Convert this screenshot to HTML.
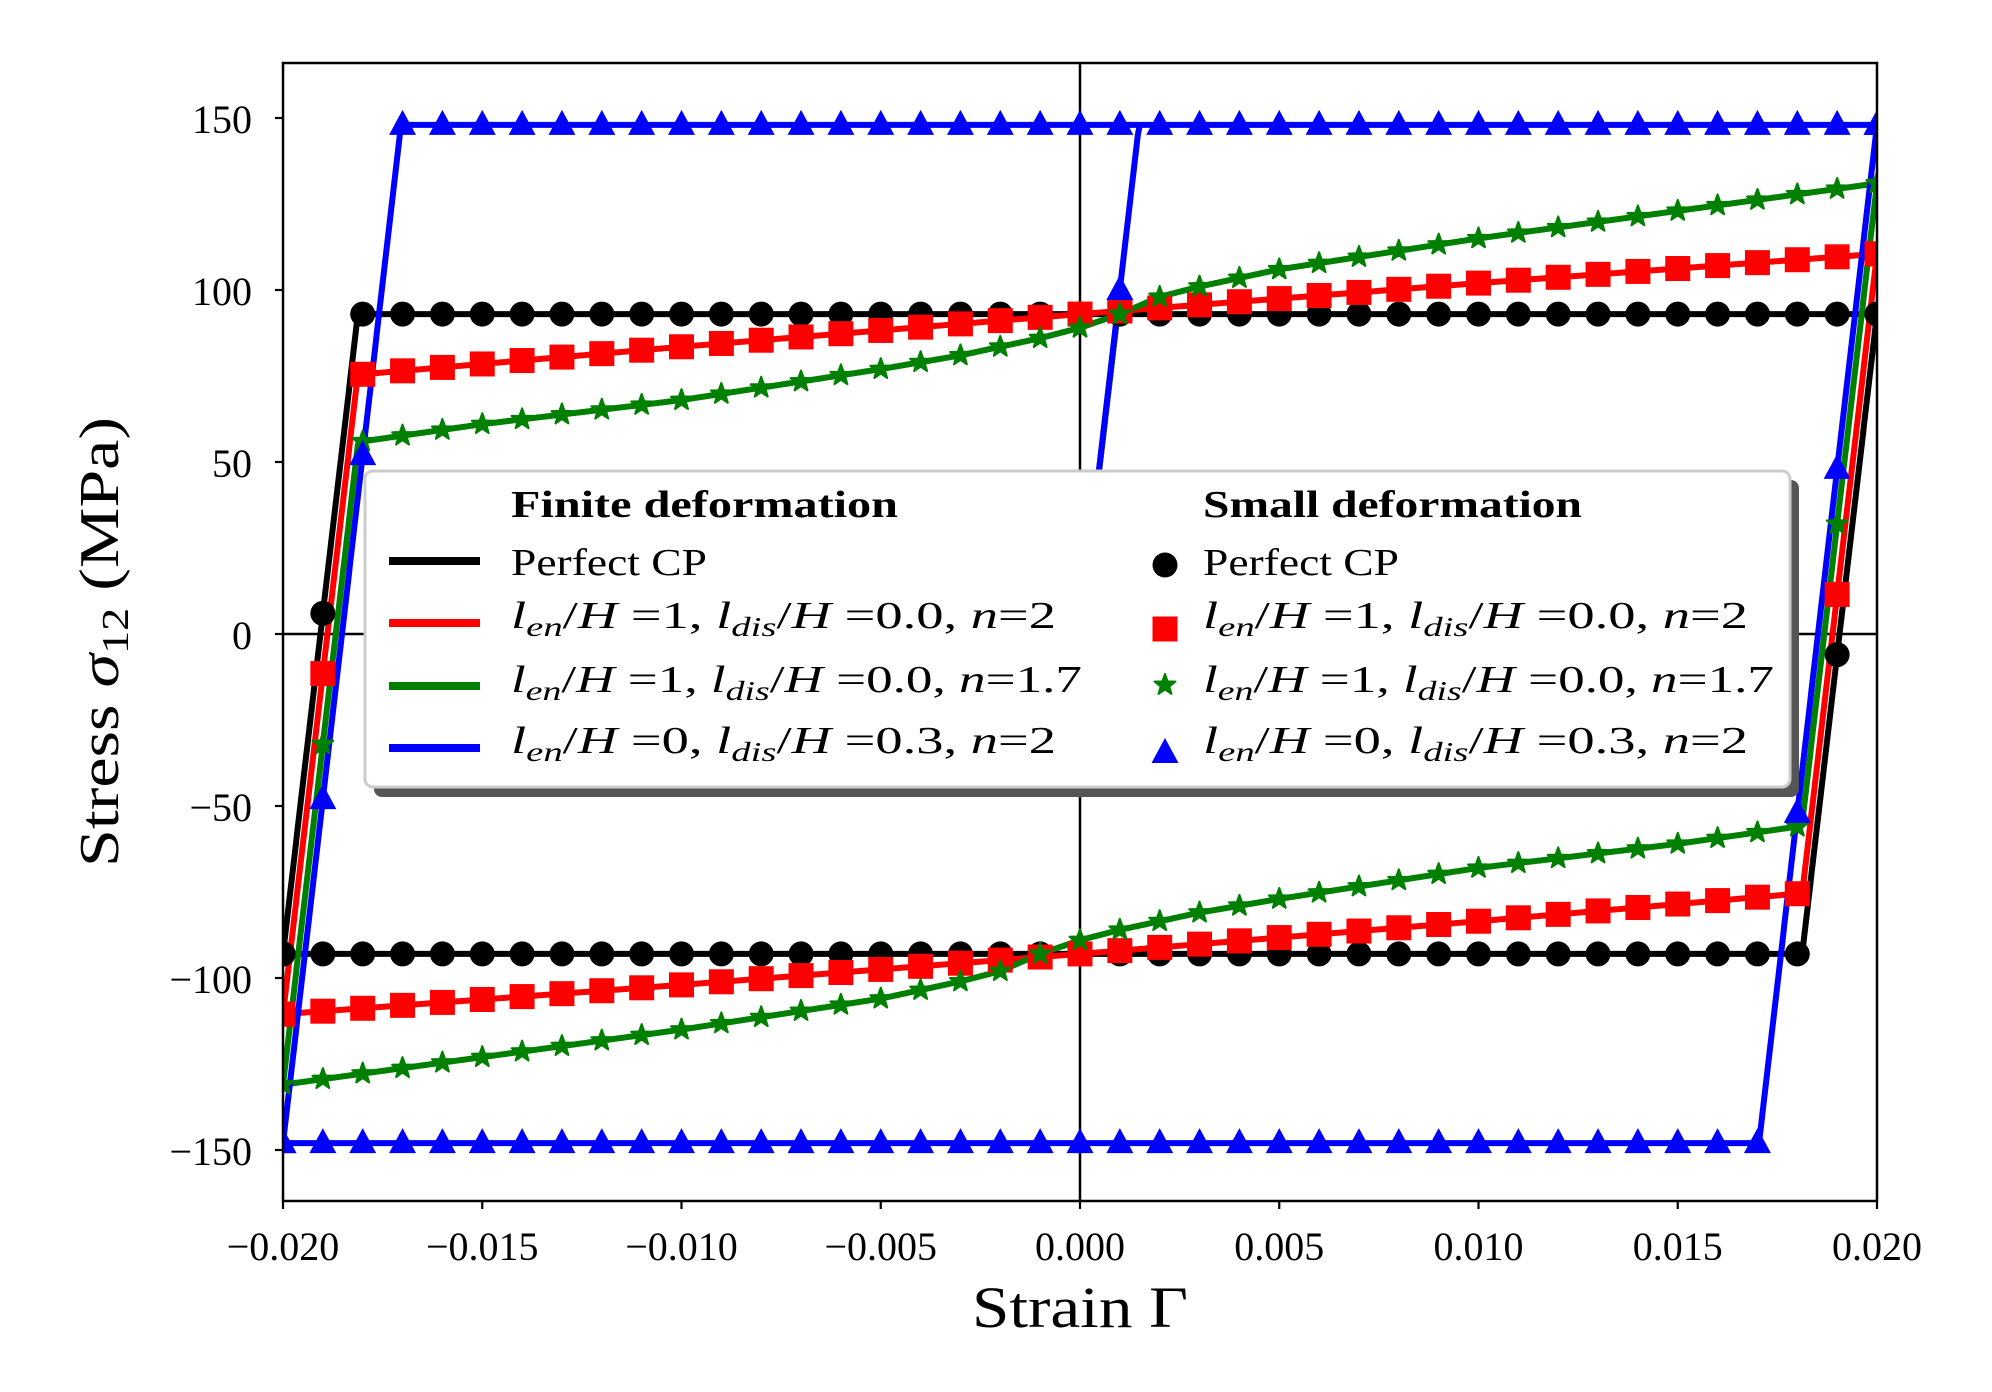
<!DOCTYPE html>
<html><head><meta charset="utf-8">
<style>
html,body{margin:0;padding:0;background:#fff;}
svg{display:block;}
text{font-family:"Liberation Serif",serif;}
</style></head>
<body>
<svg id="s" width="1992" height="1392" viewBox="0 0 1992 1392" xmlns="http://www.w3.org/2000/svg">
<defs><clipPath id="cp"><rect x="283" y="63" width="1594" height="1138"/></clipPath></defs>
<g id="plot" clip-path="url(#cp)">
<line x1="283" y1="634" x2="1877" y2="634" stroke="#000" stroke-width="2.5"/>
<line x1="1080" y1="63" x2="1080" y2="1201" stroke="#000" stroke-width="2.5"/>
</g>
<rect x="283" y="63" width="1594" height="1138" fill="none" stroke="#000" stroke-width="2.5"/>
<g id="ticks" stroke="#000" stroke-width="2.2"></g>
<g id="tl" font-size="40" fill="#000"></g>
<text x="1080" y="1327" font-size="58" text-anchor="middle" textLength="216" lengthAdjust="spacingAndGlyphs">Strain Γ</text>
<text transform="translate(118,642) rotate(-90)" font-size="56" text-anchor="middle" textLength="450" lengthAdjust="spacingAndGlyphs">Stress <tspan font-style="italic">σ</tspan><tspan font-size="38" dy="10">12</tspan><tspan dy="-10"> (MPa)</tspan></text>
<!-- legend -->
<rect x="374" y="480" width="1425" height="317" rx="8" fill="#555"/>
<rect x="365" y="471" width="1425" height="316" rx="8" fill="#fff" stroke="#ccc" stroke-width="3"/>
<g id="leg"></g>
</svg>
<script>
const NS="http://www.w3.org/2000/svg";
const X0=1080,SX=39850,Y0=634,SY=3.44;
const px=x=>X0+x*SX, py=y=>Y0-y*SY;
function el(t,a,p){const e=document.createElementNS(NS,t);for(const k in a)e.setAttribute(k,a[k]);(p||document.getElementById('plot')).appendChild(e);return e;}
function interp(pts,x){if(x<=pts[0][0])return pts[0][1];for(let i=1;i<pts.length;i++){if(x<=pts[i][0]){const a=pts[i-1],b=pts[i];return a[1]+(b[1]-a[1])*(x-a[0])/(b[0]-a[0]);}}return pts[pts.length-1][1];}
const E=99000;
const series=[
 {c:'#000',m:'o',top:x=>93},
 {c:'#f00',m:'s',top:x=>interp([[-0.02,73.5],[-0.018,75.5],[-0.01,83.5],[0,93],[0.01,102],[0.02,110.5]],x)},
 {c:'#008000',m:'*',top:x=>interp([[-0.02,53],[-0.018,56],[-0.015,61],[-0.01,68],[-0.005,77],[-0.003,81],[-0.001,86],[0,89],[0.001,93],[0.002,98],[0.003,101],[0.005,106],[0.01,115],[0.015,123],[0.02,131]],x)},
 {c:'#00f',m:'^',top:x=>148,E:100000}
];
series.forEach(s=>{
 const e=s.E||E;
 const lowEnd=-s.top(0.02);
 s.up=x=>Math.min(lowEnd+e*(x+0.02),s.top(x));
 s.down=x=>-s.up(-x);
 s.init=x=>Math.min(e*x,s.top(x));
});
const N=800;
series.forEach(s=>{
 let d='';
 for(let i=0;i<=N/20;i++){const x=0.002*i/(N/20);d+=(i?'L':'M')+px(x).toFixed(1)+' '+py(s.init(x)).toFixed(1);}
 for(let i=0;i<=N;i++){const x=0.002+(0.018)*i/N;d+='L'+px(x).toFixed(1)+' '+py(s.up(x)).toFixed(1);}
 for(let i=0;i<=N*2;i++){const x=0.02-0.04*i/(2*N);d+='L'+px(x).toFixed(1)+' '+py(s.down(x)).toFixed(1);}
 for(let i=0;i<=N*2;i++){const x=-0.02+0.04*i/(2*N);d+='L'+px(x).toFixed(1)+' '+py(s.up(x)).toFixed(1);}
 el('path',{d:d,fill:'none',stroke:s.c,'stroke-width':6,'stroke-linejoin':'round'});
});
function marker(m,c,x,y,g){
 if(m==='o')el('circle',{cx:x,cy:y,r:12.5,fill:c},g);
 else if(m==='s')el('rect',{x:x-12.5,y:y-12.5,width:25,height:25,fill:c},g);
 else if(m==='^')el('polygon',{points:`${x},${y-15} ${x+13.5},${y+10} ${x-13.5},${y+10}`,fill:c},g);
 else {let p='';for(let k=0;k<10;k++){const r=k%2?4.5:11;const a=-Math.PI/2+k*Math.PI/5;p+=(x+r*Math.cos(a)).toFixed(1)+','+(y+r*Math.sin(a)).toFixed(1)+' ';}
  el('polygon',{points:p,fill:c,stroke:c,'stroke-width':2,'stroke-linejoin':'round'},g);}
}
series.forEach(s=>{
 for(let k=0;k<=1;k++){const x=k*0.001;marker(s.m,s.c,px(x),py(s.init(x)));}
 for(let k=-20;k<=20;k++){const x=k*0.001;marker(s.m,s.c,px(x),py(s.up(x)));marker(s.m,s.c,px(x),py(s.down(x)));}
});
// ticks
const tg=document.getElementById('ticks'),tl=document.getElementById('tl');
for(let i=0;i<=8;i++){const x=283+i*199.25;el('line',{x1:x,y1:1201,x2:x,y2:1209},tg);
 const v=-0.02+i*0.005;const t=el('text',{x:x,y:1260,'text-anchor':'middle'},tl);t.textContent=(v<-1e-9?'−':'')+Math.abs(v).toFixed(3);}
for(let v=-150;v<=150;v+=50){const y=py(v);el('line',{x1:275,y1:y,x2:283,y2:y},tg);
 const t=el('text',{x:252,y:y+15,'text-anchor':'end'},tl);t.textContent=(v<0?'−':'')+Math.abs(v);}
// legend
const lg=document.getElementById('leg');
function txt(x,y,html,len,bold){const t=el('text',{x:x,y:y,'font-size':38,textLength:len,lengthAdjust:'spacingAndGlyphs'},lg);if(bold)t.setAttribute('font-weight','bold');t.innerHTML=html;return t;}
const m1=(a,b,n)=>`<tspan font-style="italic">l</tspan><tspan font-style="italic" font-size="27" dy="8">en</tspan><tspan dy="-8">/</tspan><tspan font-style="italic">H</tspan> =${a}, <tspan font-style="italic">l</tspan><tspan font-style="italic" font-size="27" dy="8">dis</tspan><tspan dy="-8">/</tspan><tspan font-style="italic">H</tspan> =${b},   <tspan font-style="italic">n</tspan>=${n}`;
txt(511,517,'Finite deformation',387,true);
txt(1203,517,'Small deformation',379,true);
const rows=[[575,'Perfect CP',196],[628,m1(1,'0.0',2),545],[692,m1(1,'0.0','1.7'),571],[753,m1(0,'0.3',2),545]];
const ly=[561,623,686,748], my=[565,629,685,753];
rows.forEach((r,i)=>{
 txt(511,r[0],r[1],r[2]);txt(1203,r[0],r[1],r[2]);
 el('line',{x1:389,y1:ly[i],x2:480,y2:ly[i],stroke:series[i].c,'stroke-width':8},lg);
 marker(series[i].m,series[i].c,1165,my[i],lg);
});
</script>
</body></html>
